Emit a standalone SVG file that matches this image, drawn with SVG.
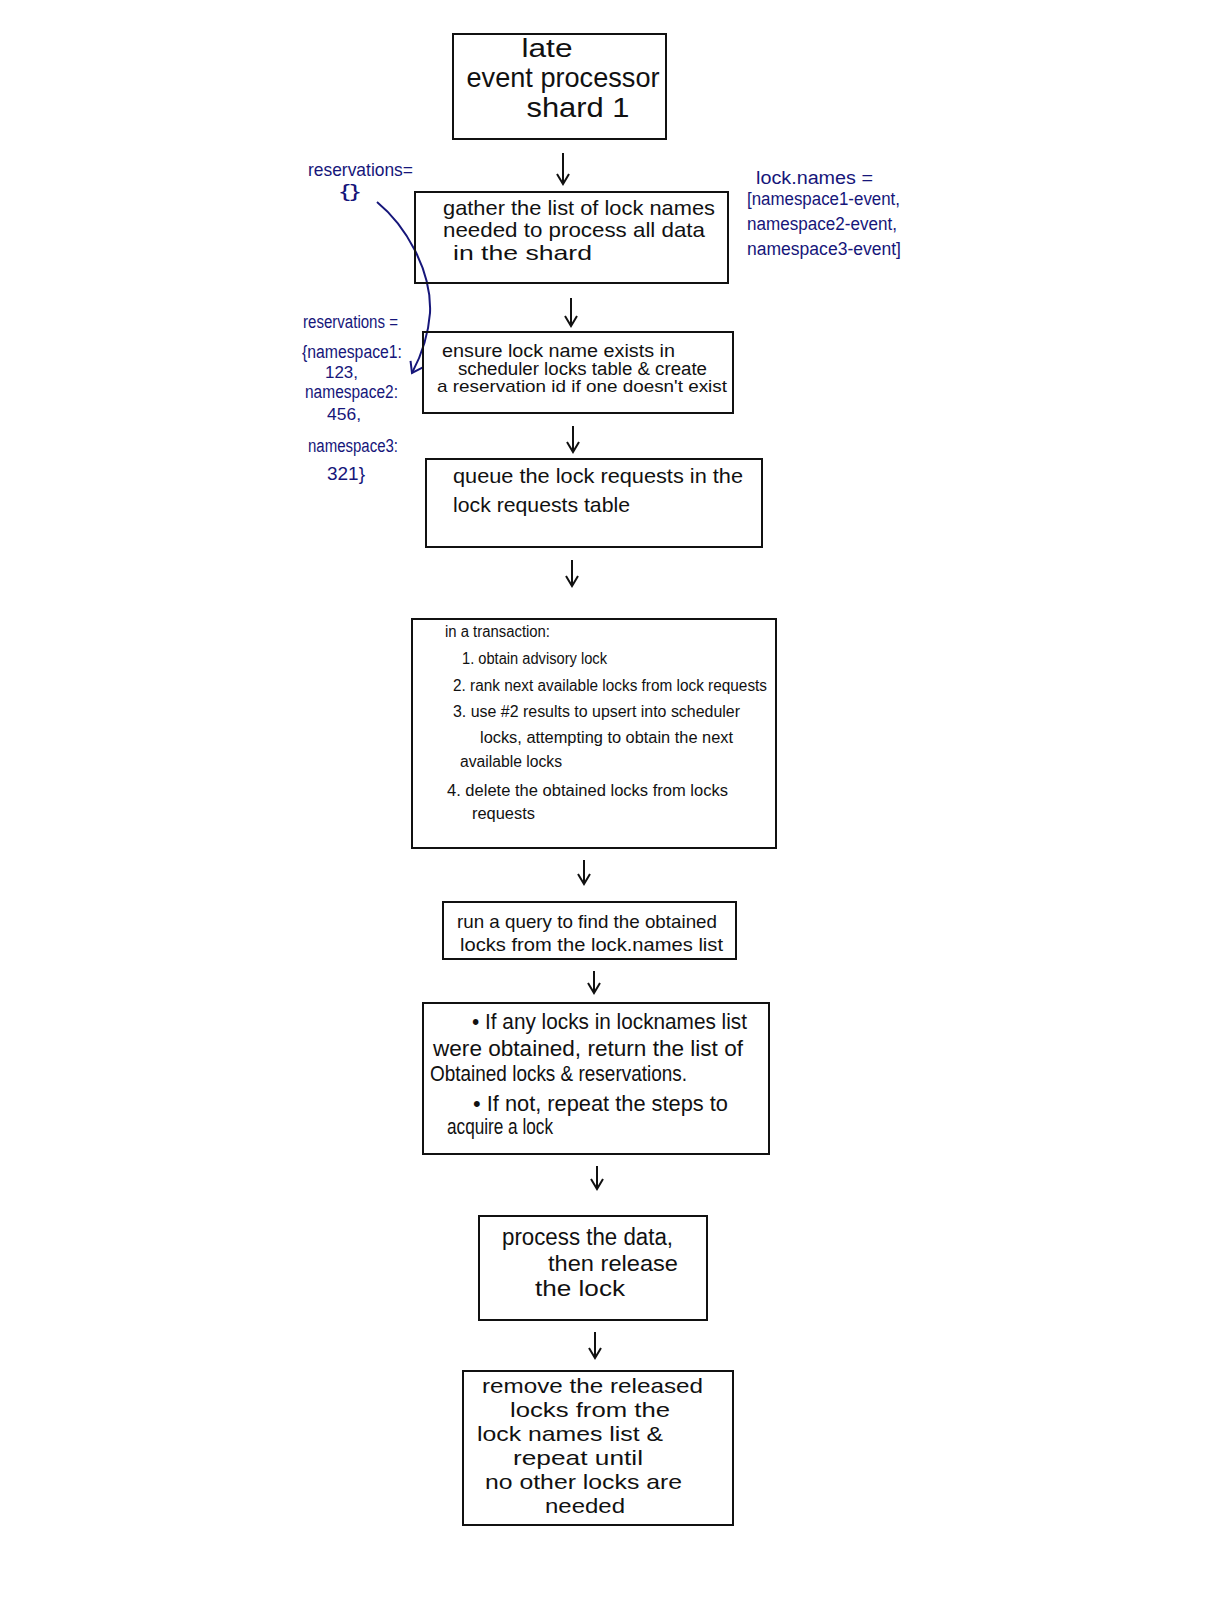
<svg xmlns="http://www.w3.org/2000/svg" width="1219" height="1600" viewBox="0 0 1219 1600">
<style>
.box{fill:none;stroke:#111;stroke-width:2}
.t{font-family:"Liberation Sans",Arial,sans-serif;fill:#111}
.n{font-family:"Liberation Sans",Arial,sans-serif;fill:#16167a}
.ar{stroke:#111;stroke-width:2;fill:none}
.cv{stroke:#16167a;stroke-width:2;fill:none}
</style>
<defs>
<marker id="ah" viewBox="-12 -8 14 16" refX="0" refY="0" markerWidth="14" markerHeight="16" markerUnits="userSpaceOnUse" orient="auto">
<path d="M-10,-6 L0,0 L-10,6" fill="none" stroke="#111" stroke-width="2"/>
</marker>
<marker id="ahb" viewBox="-12 -8 14 16" refX="0" refY="0" markerWidth="14" markerHeight="16" markerUnits="userSpaceOnUse" orient="auto">
<path d="M-10,-7 L0,0 L-10,7" fill="none" stroke="#16167a" stroke-width="2"/>
</marker>
</defs>
<rect width="1219" height="1600" fill="#fff"/>

<g id="connectors">
<line class="ar" x1="563" y1="153" x2="563" y2="184" marker-end="url(#ah)"/>
<line class="ar" x1="571" y1="298" x2="571" y2="326" marker-end="url(#ah)"/>
<line class="ar" x1="573" y1="426" x2="573" y2="452" marker-end="url(#ah)"/>
<line class="ar" x1="572" y1="560" x2="572" y2="586" marker-end="url(#ah)"/>
<line class="ar" x1="584" y1="860" x2="584" y2="884" marker-end="url(#ah)"/>
<line class="ar" x1="594" y1="971" x2="594" y2="993" marker-end="url(#ah)"/>
<line class="ar" x1="597" y1="1166" x2="597" y2="1189" marker-end="url(#ah)"/>
<line class="ar" x1="595" y1="1332" x2="595" y2="1358" marker-end="url(#ah)"/>
<path class="cv" d="M377,202 C405,225 432,270 430,313 C428,340 420,358 412,373" marker-end="url(#ahb)"/>
</g>

<g id="node-shard">
<rect class="box" x="453" y="34" width="213" height="105"/>
<text class="t" x="547" y="57" font-size="26" text-anchor="middle" textLength="51" lengthAdjust="spacingAndGlyphs">late</text>
<text class="t" x="563" y="87" font-size="28" text-anchor="middle" textLength="193" lengthAdjust="spacingAndGlyphs">event processor</text>
<text class="t" x="578" y="117" font-size="28" text-anchor="middle" textLength="103" lengthAdjust="spacingAndGlyphs">shard 1</text>
</g>

<g id="node-gather">
<rect class="box" x="415" y="192" width="313" height="91"/>
<text class="t" x="443" y="215" font-size="21" textLength="272" lengthAdjust="spacingAndGlyphs">gather the list of lock names</text>
<text class="t" x="443" y="237" font-size="21" textLength="262" lengthAdjust="spacingAndGlyphs">needed  to process all data</text>
<text class="t" x="453" y="260" font-size="21" textLength="139" lengthAdjust="spacingAndGlyphs">in the shard</text>
</g>

<g id="node-ensure">
<rect class="box" x="423" y="332" width="310" height="81"/>
<text class="t" x="442" y="357" font-size="18" textLength="233" lengthAdjust="spacingAndGlyphs">ensure lock name exists in</text>
<text class="t" x="458" y="375" font-size="18" textLength="249" lengthAdjust="spacingAndGlyphs">scheduler locks table &amp; create</text>
<text class="t" x="437" y="392" font-size="17" textLength="290" lengthAdjust="spacingAndGlyphs">a reservation id if one doesn't exist</text>
</g>

<g id="node-queue">
<rect class="box" x="426" y="459" width="336" height="88"/>
<text class="t" x="453" y="483" font-size="21" textLength="290" lengthAdjust="spacingAndGlyphs">queue the lock requests in the</text>
<text class="t" x="453" y="512" font-size="21" textLength="177" lengthAdjust="spacingAndGlyphs">lock requests table</text>
</g>

<g id="node-transaction">
<rect class="box" x="412" y="619" width="364" height="229"/>
<text class="t" x="445" y="637" font-size="16" textLength="105" lengthAdjust="spacingAndGlyphs">in a transaction:</text>
<text class="t" x="462" y="664" font-size="16" textLength="145" lengthAdjust="spacingAndGlyphs">1. obtain advisory lock</text>
<text class="t" x="453" y="691" font-size="16" textLength="314" lengthAdjust="spacingAndGlyphs">2. rank next available locks from lock requests</text>
<text class="t" x="453" y="717" font-size="16" textLength="287" lengthAdjust="spacingAndGlyphs">3. use #2 results to upsert into scheduler</text>
<text class="t" x="480" y="743" font-size="16" textLength="253" lengthAdjust="spacingAndGlyphs">locks, attempting to obtain the next</text>
<text class="t" x="460" y="767" font-size="16" textLength="102" lengthAdjust="spacingAndGlyphs">available locks</text>
<text class="t" x="447" y="796" font-size="16" textLength="281" lengthAdjust="spacingAndGlyphs">4. delete the obtained locks from locks</text>
<text class="t" x="472" y="819" font-size="16" textLength="63" lengthAdjust="spacingAndGlyphs">requests</text>
</g>

<g id="node-query">
<rect class="box" x="443" y="902" width="293" height="57"/>
<text class="t" x="457" y="928" font-size="19" textLength="260" lengthAdjust="spacingAndGlyphs">run a query to find the obtained</text>
<text class="t" x="460" y="951" font-size="19" textLength="263" lengthAdjust="spacingAndGlyphs">locks from the lock.names list</text>
</g>

<g id="node-result">
<rect class="box" x="423" y="1003" width="346" height="151"/>
<text class="t" x="472" y="1029" font-size="22" textLength="275" lengthAdjust="spacingAndGlyphs">• If any locks in locknames list</text>
<text class="t" x="433" y="1056" font-size="22" textLength="310" lengthAdjust="spacingAndGlyphs">were obtained, return the list of</text>
<text class="t" x="430" y="1081" font-size="22" textLength="257" lengthAdjust="spacingAndGlyphs">Obtained locks &amp; reservations.</text>
<text class="t" x="473" y="1111" font-size="22" textLength="255" lengthAdjust="spacingAndGlyphs">• If not, repeat the steps to</text>
<text class="t" x="447" y="1134" font-size="22" textLength="106" lengthAdjust="spacingAndGlyphs">acquire a lock</text>
</g>

<g id="node-process">
<rect class="box" x="479" y="1216" width="228" height="104"/>
<text class="t" x="502" y="1245" font-size="23" textLength="171" lengthAdjust="spacingAndGlyphs">process the data,</text>
<text class="t" x="548" y="1271" font-size="22" textLength="130" lengthAdjust="spacingAndGlyphs">then release</text>
<text class="t" x="535" y="1296" font-size="22" textLength="90" lengthAdjust="spacingAndGlyphs">the lock</text>
</g>

<g id="node-remove">
<rect class="box" x="463" y="1371" width="270" height="154"/>
<text class="t" x="482" y="1393" font-size="21" textLength="221" lengthAdjust="spacingAndGlyphs">remove the released</text>
<text class="t" x="510" y="1417" font-size="21" textLength="160" lengthAdjust="spacingAndGlyphs">locks from the</text>
<text class="t" x="477" y="1441" font-size="21" textLength="186" lengthAdjust="spacingAndGlyphs">lock names list &amp;</text>
<text class="t" x="513" y="1465" font-size="21" textLength="130" lengthAdjust="spacingAndGlyphs">repeat until</text>
<text class="t" x="485" y="1489" font-size="21" textLength="197" lengthAdjust="spacingAndGlyphs">no other locks are</text>
<text class="t" x="545" y="1513" font-size="21" textLength="80" lengthAdjust="spacingAndGlyphs">needed</text>
</g>

<g id="note-reservations-empty">
<text class="n" x="308" y="176" font-size="19" textLength="105" lengthAdjust="spacingAndGlyphs">reservations=</text>
<text class="n" x="340" y="197" font-size="19" textLength="20" lengthAdjust="spacingAndGlyphs">{}</text>
</g>

<g id="note-lock-names">
<text class="n" x="756" y="184" font-size="18" textLength="117" lengthAdjust="spacingAndGlyphs">lock.names =</text>
<text class="n" x="747" y="205" font-size="18" textLength="153" lengthAdjust="spacingAndGlyphs">[namespace1-event,</text>
<text class="n" x="747" y="230" font-size="18" textLength="150" lengthAdjust="spacingAndGlyphs">namespace2-event,</text>
<text class="n" x="747" y="255" font-size="18" textLength="154" lengthAdjust="spacingAndGlyphs">namespace3-event]</text>
</g>

<g id="note-reservations-filled">
<text class="n" x="303" y="328" font-size="18" textLength="95" lengthAdjust="spacingAndGlyphs">reservations =</text>
<text class="n" x="302" y="358" font-size="18" textLength="100" lengthAdjust="spacingAndGlyphs">{namespace1:</text>
<text class="n" x="325" y="378" font-size="17" textLength="33" lengthAdjust="spacingAndGlyphs">123,</text>
<text class="n" x="305" y="398" font-size="18" textLength="93" lengthAdjust="spacingAndGlyphs">namespace2:</text>
<text class="n" x="327" y="420" font-size="17" textLength="34" lengthAdjust="spacingAndGlyphs">456,</text>
<text class="n" x="308" y="452" font-size="18" textLength="90" lengthAdjust="spacingAndGlyphs">namespace3:</text>
<text class="n" x="327" y="480" font-size="18" textLength="38" lengthAdjust="spacingAndGlyphs">321}</text>
</g>
</svg>
